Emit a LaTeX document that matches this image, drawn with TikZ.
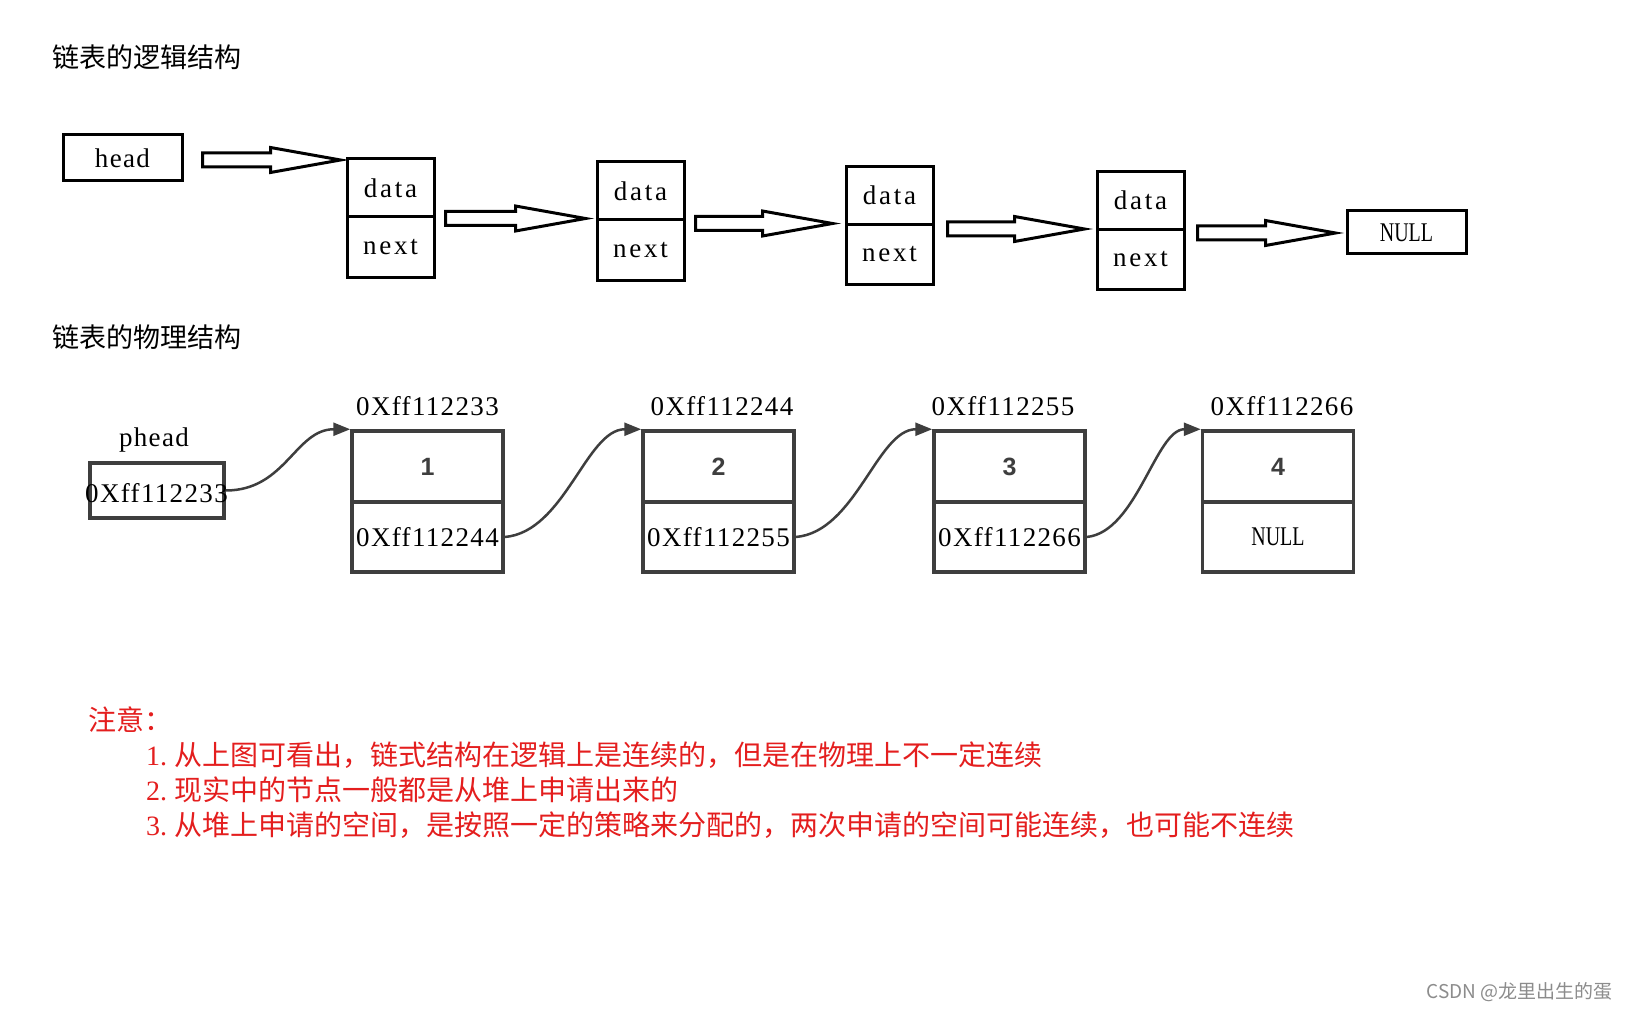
\documentclass[tikz,border=0pt]{standalone}
\usepackage{fontspec}
\usepackage{graphicx}
\setmainfont{Liberation Serif}
\newfontfamily\cjk{Noto Sans CJK SC}
\newfontfamily\arialf{Liberation Sans}
\newfontfamily\spacedserif[LetterSpace=10]{Liberation Serif}
\newfontfamily\lightspaced[LetterSpace=5]{Liberation Serif}
\usetikzlibrary{calc,arrows.meta}
\definecolor{notered}{RGB}{228,30,30}
\definecolor{pgray}{RGB}{62,62,62}
\newcommand\myfs[1]{\fontsize{#1pt}{#1pt}\selectfont}
\newcommand\blockarrow[2]{\draw[blockar] let \p1=(#1), \p2=(#2) in
  (\x1,\y1+7pt) -- (\x2-70pt,\y1+7pt) -- (\x2-70pt,\y1+12.5pt) -- (\x2,\y1)
  -- (\x2-70pt,\y1-12.5pt) -- (\x2-70pt,\y1-7pt) -- (\x1,\y1-7pt) -- cycle;}
\tikzset{
  lbox/.style={draw=black, line width=3pt, fill=white, inner sep=0pt, font=\myfs{27}},
  dcell/.style={lbox, minimum width=87pt, minimum height=58pt, font={\spacedserif\myfs{27}}},
  ncell/.style={lbox, minimum width=87pt, minimum height=60pt, font={\spacedserif\myfs{27}}},
  blockar/.style={draw=black, line width=3pt, fill=white, line join=miter},
  pbox/.style={draw=pgray, line width=3.5pt, fill=white, inner sep=0pt, minimum width=151pt, font={\lightspaced\myfs{27}}},
  ptop/.style={pbox, minimum height=71pt, font=\arialf\bfseries\myfs{25}, text=pgray},
  pbot/.style={pbox, minimum height=70pt},
  ptr/.style={draw=pgray, line width=2.5pt, -{Triangle[length=17pt,width=13pt]}},
  title/.style={font={\cjk\myfs{27}}, inner sep=0pt, anchor=west},
  note/.style={font={\cjk\myfs{28}}, text=notered, inner sep=0pt, anchor=west},
  addr/.style={font={\lightspaced\myfs{27}}, inner sep=0pt}
}
\begin{document}
\begin{tikzpicture}[x=1pt,y=-1pt]
\fill[white] (0,0) rectangle (1628,1011);
\useasboundingbox (0,0) rectangle (1628,1011);

% ---------- logical structure ----------
\node[title] (t1) at (52,57) {链表的逻辑结构};
\node[lbox, minimum width=119pt, minimum height=46pt, font={\lightspaced\myfs{27}}] (head) at (122.5,158) {head};
\node[dcell] (n1d) at (390.5,188) {data};
\node[ncell] (n1n) at (390.5,247) {next};
\node[dcell] (n2d) at (640.5,191) {data};
\node[ncell] (n2n) at (640.5,250) {next};
\node[dcell] (n3d) at (889.5,195.5) {data};
\node[ncell] (n3n) at (889.5,254.5) {next};
\node[dcell] (n4d) at (1140.5,200.5) {data};
\node[ncell] (n4n) at (1140.5,259.5) {next};
\node[lbox, minimum width=119pt, minimum height=43pt] (null1) at (1406.5,232.5) {\scalebox{0.74}[1]{NULL}};

\blockarrow{$(head.east)+(19,2)$}{$(n1d.west)+(-5,0)$}
\blockarrow{$(n1d.south east)+(10,0)$}{$(n2d.west)+(-10,0)$}
\blockarrow{$(n2d.south east)+(10,2)$}{$(n3d.west)+(-12,0)$}
\blockarrow{$(n3d.south east)+(13,3)$}{$(n4d.west)+(-11,0)$}
\blockarrow{$(n4d.south east)+(12,2)$}{$(null1.west)+(-10,0)$}

% ---------- physical structure ----------
\node[title] (t2) at (52,337) {链表的物理结构};
\node[addr] (phl) at (154,440) {phead};
\node[pbox, minimum width=134pt, minimum height=55pt] (ph) at (157,490.5) {};
\node[addr] (phv) at (156.5,493) {0Xff112233};

\node[addr] (a1) at (427.5,406) {0Xff112233};
\node[addr] (a2) at (722,406) {0Xff112244};
\node[addr] (a3) at (1003,406) {0Xff112255};
\node[addr] (a4) at (1282,406) {0Xff112266};

\node[ptop] (p1t) at (427.5,466.5) {1};
\node[pbot] (p1b) at (427.5,537) {0Xff112244};
\node[ptop] (p2t) at (718.5,466.5) {2};
\node[pbot] (p2b) at (718.5,537) {0Xff112255};
\node[ptop] (p3t) at (1009.5,466.5) {3};
\node[pbot] (p3b) at (1009.5,537) {0Xff112266};
\node[ptop] (p4t) at (1278,466.5) {4};
\node[pbot, font=\myfs{27}] (p4b) at (1278,537) {\scalebox{0.74}[1]{NULL}};

\draw[ptr] (ph.east) .. controls +(60,0) and +(-55,0) .. (p1t.north west);
\draw[ptr] (p1b.east) .. controls +(60,-5) and +(-55,0) .. (p2t.north west);
\draw[ptr] (p2b.east) .. controls +(60,-5) and +(-55,0) .. (p3t.north west);
\draw[ptr] (p3b.east) .. controls +(50,-5) and +(-45,0) .. (p4t.north west);

% ---------- notes ----------
\node[note] (nt0) at (88,720) {注意：};
\node[note] (nt1) at (146,755) {\makebox[28pt][l]{\rmfamily 1.}从上图可看出，链式结构在逻辑上是连续的，但是在物理上不一定连续};
\node[note] (nt2) at (146,790) {\makebox[28pt][l]{\rmfamily 2.}现实中的节点一般都是从堆上申请出来的};
\node[note] (nt3) at (146,825) {\makebox[28pt][l]{\rmfamily 3.}从堆上申请的空间，是按照一定的策略来分配的，两次申请的空间可能连续，也可能不连续};

\node[font={\cjk\myfs{19}}, text=black!45, inner sep=0pt, anchor=east] (wm) at (1613,992) {CSDN @龙里出生的蛋};
\end{tikzpicture}
\end{document}
